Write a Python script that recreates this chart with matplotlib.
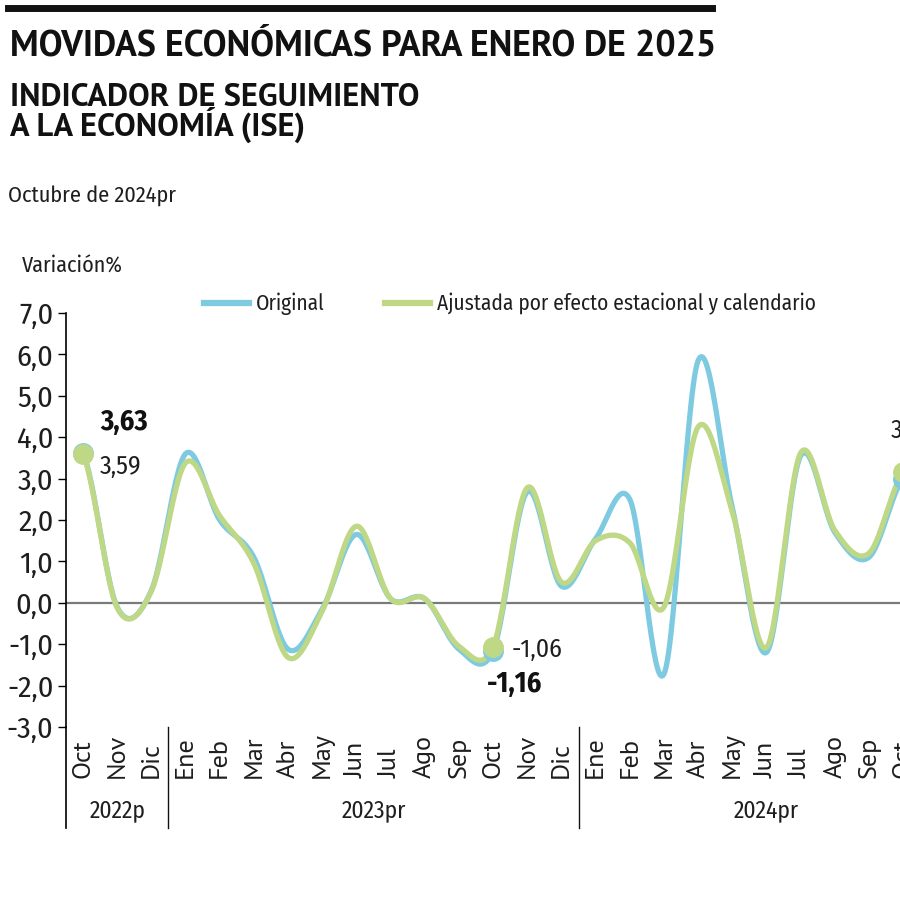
import matplotlib
matplotlib.use("Agg")
import matplotlib.pyplot as plt
import matplotlib.transforms as mtransforms
from matplotlib.font_manager import FontProperties
from matplotlib.lines import Line2D
from matplotlib.textpath import TextPath
import numpy as np

HEAD = ["PT Sans", "Open Sans", "DejaVu Sans"]
BOLD = ["Fira Sans Condensed", "Open Sans Condensed", "DejaVu Sans"]
COND = ["Fira Sans Condensed", "PT Sans Narrow", "DejaVu Sans"]
MONTH_FONT = ["PT Sans", "DejaVu Sans"]
plt.rcParams["font.family"] = COND

# ISE variación anual (%), octubre 2022 - octubre 2024
MONTHS = ["Oct", "Nov", "Dic", "Ene", "Feb", "Mar", "Abr", "May", "Jun", "Jul", "Ago", "Sep",
          "Oct", "Nov", "Dic", "Ene", "Feb", "Mar", "Abr", "May", "Jun", "Jul", "Ago", "Sep", "Oct"]
YEARS = ["2022p", "2023pr", "2024pr"]
YEAR_CENTERS = [1, 8.5, 20]
YEAR_BREAKS = [2.5, 14.5]

ORIGINAL = [3.63, -0.1, 0.3, 3.6, 2.0, 1.1, -1.12, -0.15, 1.65, 0.1, 0.1, -1.12,
            -1.16, 2.68, 0.4, 1.55, 2.5, -1.72, 5.85, 2.3, -1.2, 3.55, 1.7, 1.1, 3.0]
ADJUSTED = [3.59, -0.12, 0.28, 3.38, 2.1, 0.95, -1.32, -0.2, 1.85, 0.1, 0.1, -1.05,
            -1.06, 2.78, 0.5, 1.5, 1.45, -0.1, 4.25, 2.2, -1.08, 3.62, 1.75, 1.2, 3.15]
HIGHLIGHT = [0, 12, 24]
LEGEND = ["Original", "Ajustada por efecto estacional y calendario"]

BLUE = "#7ecae0"
GREEN = "#bed886"
TEXT = "#1e1e1e"


def size_for(text, width_px, family=COND, weight="normal"):
    # tamaño de fuente (pt) para que el texto ocupe width_px a 100 dpi
    prop = FontProperties(family=family, weight=weight)
    w = TextPath((0, 0), text, size=10, prop=prop).get_extents().width * 100 / 72
    return 10 * width_px / w


def smooth(values, steps=30):
    # curva suavizada tipo Excel (Catmull-Rom) que pasa por cada punto
    y = np.asarray(values, dtype=float)
    ext = np.concatenate([[y[0]], y, [y[-1]]])
    xs, ys = [], []
    for i in range(len(y) - 1):
        p0, p1 = y[i], y[i + 1]
        m0 = (ext[i + 2] - ext[i]) / 2
        m1 = (ext[i + 3] - ext[i + 1]) / 2
        t = np.linspace(0, 1, steps)
        h00 = 2 * t**3 - 3 * t**2 + 1
        h10 = t**3 - 2 * t**2 + t
        h01 = -2 * t**3 + 3 * t**2
        h11 = t**3 - t**2
        xs.append(i + t)
        ys.append(h00 * p0 + h10 * m0 + h01 * p1 + h11 * m1)
    return np.concatenate(xs), np.concatenate(ys)


def fmt(v):
    return f"{v:.2f}".replace(".", ",")


fig = plt.figure(figsize=(9, 9), dpi=100)

# cabecera
fig.add_artist(Line2D([8 / 900, 712 / 900], [1 - 8 / 900] * 2, transform=fig.transFigure,
                      color="#111111", lw=5))
title = "MOVIDAS ECONÓMICAS PARA ENERO DE 2025"
fig.text(10 / 900, 1 - 55 / 900, title, fontsize=size_for(title, 702, HEAD, "bold"),
         family=HEAD, weight="bold", va="baseline", color="#111111")
sub_size = size_for("INDICADOR DE SEGUIMIENTO", 405, HEAD, "bold")
fig.text(10 / 900, 1 - 106 / 900, "INDICADOR DE SEGUIMIENTO", fontsize=sub_size,
         family=HEAD, weight="bold", va="baseline", color="#111111")
fig.text(10 / 900, 1 - 136 / 900, "A LA ECONOMÍA (ISE)", fontsize=sub_size,
         family=HEAD, weight="bold", va="baseline", color="#111111")
fig.text(8 / 900, 1 - 203 / 900, "Octubre de 2024pr", fontsize=size_for("Octubre de 2024pr", 167),
         va="baseline", color=TEXT)
fig.text(22 / 900, 1 - 273 / 900, "Variación%", fontsize=size_for("Variación%", 100),
         va="baseline", color=TEXT)

ax = fig.add_axes([66 / 900, 1 - 727 / 900, 844 / 900, 414 / 900])
ax.set_xlim(-0.4975, 24.2)
ax.set_ylim(-3, 7)
for side in ["top", "right", "bottom"]:
    ax.spines[side].set_visible(False)
ax.spines["left"].set_linewidth(1.2)
ax.set_xticks([])
ax.set_yticks(range(-3, 8))
ax.set_yticklabels([f"{v},0" for v in range(-3, 8)])
ax.tick_params(axis="y", length=6, width=1, labelsize=size_for("7,0", 32), pad=3,
               labelcolor=TEXT)

ax.axhline(0, color="#7a7a7a", lw=1.6, zorder=1)

xo, yo = smooth(ORIGINAL)
xa, ya = smooth(ADJUSTED)
ax.plot(xo, yo, color=BLUE, lw=3.8, solid_capstyle="round", zorder=2)
ax.plot(xa, ya, color=GREEN, lw=3.8, solid_capstyle="round", zorder=3)
ax.plot(HIGHLIGHT, [ORIGINAL[i] for i in HIGHLIGHT], "o", ms=14, color=BLUE, zorder=4, clip_on=False)
ax.plot(HIGHLIGHT, [ADJUSTED[i] for i in HIGHLIGHT], "o", ms=14, color=GREEN, zorder=5, clip_on=False)

val_size = size_for("3,59", 40)
bold_size = size_for("3,63", 47, BOLD, "bold")
ax.text(0.5, 4.37, fmt(ORIGINAL[0]), fontsize=bold_size, family=BOLD, weight="bold",
        va="center", color="#111111")
ax.text(0.5, 3.28, fmt(ADJUSTED[0]), fontsize=val_size, va="center", color=TEXT)
ax.text(12.55, -1.14, fmt(ADJUSTED[12]), fontsize=val_size, va="center", color=TEXT)
ax.text(11.82, -1.98, fmt(ORIGINAL[12]), fontsize=bold_size, family=BOLD, weight="bold",
        va="center", color="#111111")
ax.text(23.65, 4.15, fmt(ADJUSTED[24]), fontsize=val_size, va="center", color=TEXT)

# eje de categorías: meses y años
bt = mtransforms.blended_transform_factory(ax.transData, fig.transFigure)
month_size = size_for("Oct", 37, MONTH_FONT)
for i, m in enumerate(MONTHS):
    ax.text(i, 1 - 778 / 900, m, transform=bt, rotation=90, ha="center", va="bottom",
            fontsize=month_size, family=MONTH_FONT, color=TEXT, clip_on=False)
year_size = size_for("2023pr", 64)
for c, y in zip(YEAR_CENTERS, YEARS):
    ax.text(c, 1 - 810 / 900, y, transform=bt, ha="center", va="center", fontsize=year_size,
            color=TEXT)
for b in YEAR_BREAKS:
    ax.add_artist(Line2D([b, b], [1 - 727 / 900, 1 - 828 / 900], transform=bt,
                         color="#111111", lw=1, clip_on=False))
fig.add_artist(Line2D([66 / 900] * 2, [1 - 727 / 900, 1 - 828 / 900], transform=fig.transFigure,
                      color="black", lw=1.2))

legend_size = size_for(LEGEND[1], 379)
em = legend_size * 100 / 72
handles = [Line2D([], [], color=BLUE, lw=4.5), Line2D([], [], color=GREEN, lw=4.5)]
fig.legend(handles, LEGEND,
           loc="center left", bbox_to_anchor=(204 / 900, 1 - 304 / 900), ncol=2, frameon=False,
           fontsize=legend_size, handlelength=45 / em, handletextpad=7 / em,
           columnspacing=60 / em, borderpad=0, borderaxespad=0, labelcolor=TEXT)

fig.savefig("out.png", dpi=100)
